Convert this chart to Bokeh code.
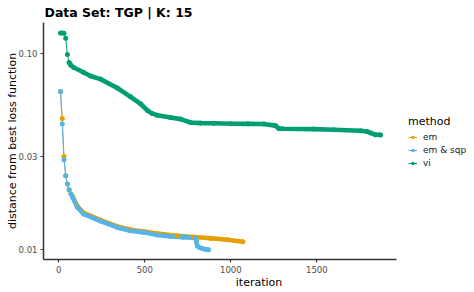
from bokeh.plotting import figure
from bokeh.models import Range1d, FixedTicker, Legend, LegendItem, Title
from bokeh.embed import file_html
from bokeh.resources import INLINE

# ---- data ----
METHODS = ["em", "em & sqp", "vi"]
COLORS = ["#E69F00", "#56B4E9", "#009E73"]

ITER_EM = [10, 20, 30, 40, 50, 60, 70, 80, 107, 145, 242, 340, 417, 494, 572,
           688, 785, 882, 980, 1070]
EM = [0.0638, 0.0466, 0.0298, 0.0238, 0.0216, 0.0202, 0.0193, 0.0187, 0.0167,
      0.0154, 0.01415, 0.01315, 0.01265, 0.0124, 0.0121, 0.0118, 0.01163,
      0.01145, 0.01125, 0.0110]

ITER_EMSQP = [10, 20, 30, 40, 50, 60, 70, 80, 107, 145, 242, 340, 417, 494,
              572, 650, 720, 795, 800, 805, 815, 835, 855, 870]
EMSQP = [0.0638, 0.0436, 0.0287, 0.0238, 0.0216, 0.0202, 0.0192, 0.0185,
         0.0165, 0.0152, 0.0140, 0.0130, 0.0125, 0.01227, 0.0119, 0.0117,
         0.0116, 0.0115, 0.0110, 0.0105, 0.0103, 0.01015, 0.01005, 0.0100]

ITER_VI = [10, 20, 30, 40, 50, 60, 70, 87, 145, 184, 242, 340, 417, 476, 514,
           543, 572, 649, 708, 766, 824, 901, 1000, 1100, 1192, 1260, 1279,
           1300, 1483, 1600, 1754, 1790, 1812, 1840, 1870]
VI = [0.1265, 0.1265, 0.1262, 0.1191, 0.0984, 0.0896, 0.0868, 0.0845, 0.0797,
      0.0765, 0.0738, 0.0665, 0.0600, 0.0552, 0.0512, 0.0493, 0.0484, 0.0471,
      0.0462, 0.0444, 0.0441, 0.0440, 0.0438, 0.0437, 0.0436, 0.0428, 0.0414,
      0.0413, 0.0411, 0.0408, 0.0403, 0.0400, 0.0393, 0.0385, 0.0384]

X_TICKS = [0, 500, 1000, 1500]
Y_TICKS = [0.01, 0.03, 0.1]
Y_TICK_LABELS = ["0.01", "0.03", "0.10"]

SERIES = [(ITER_EM, EM), (ITER_EMSQP, EMSQP), (ITER_VI, VI)]
DENSE_FROM = [80, 80, 60]   # iteration from which points overlap into a band

FONT = "DejaVu Sans"

# ---- layout geometry (pixels) ----
W, H = 474, 292
LEFT, PANEL_RIGHT, TOP, BOTTOM = 43, 396, 21, 33
X0, X1 = -89, 1963                        # visible data span of the panel
scale = (PANEL_RIGHT - LEFT) / (X1 - X0)  # px per unit
X_END = X0 + (W - LEFT) / scale           # frame extends under the legend

p = figure(width=W, height=H, y_axis_type="log",
           x_range=Range1d(X0, X_END), y_range=Range1d(0.00893, 0.1432),
           output_backend="svg", toolbar_location=None,
           min_border_left=LEFT, min_border_right=0,
           min_border_top=TOP, min_border_bottom=BOTTOM)

p.title.text = "Data Set: TGP | K: 15"
p.title.text_font = FONT
p.title.text_font_size = "12.5px"
p.title.text_font_style = "bold"
p.title.text_color = "#000000"
p.title.offset = 1
p.title.standoff = 5

p.outline_line_color = None
p.xgrid.visible = False
p.ygrid.visible = False
p.background_fill_color = "white"

for ax in (p.xaxis[0], p.yaxis[0]):
    ax.axis_line_color = "#333333"
    ax.axis_line_width = 1.5
    ax.major_tick_line_color = "#333333"
    ax.major_tick_line_width = 1.2
    ax.major_tick_out = 3
    ax.major_tick_in = 0
    ax.minor_tick_line_color = None
    ax.major_label_text_font = FONT
    ax.major_label_text_font_size = "8.5px"
    ax.major_label_text_color = "#4D4D4D"
    ax.axis_label_text_font = FONT
    ax.axis_label_text_font_size = "11px"
    ax.axis_label_text_font_style = "normal"
    ax.axis_label_text_color = "#000000"

p.xaxis.ticker = FixedTicker(ticks=X_TICKS, minor_ticks=[])
p.xaxis.bounds = (X0, X1)
p.yaxis.ticker = FixedTicker(ticks=Y_TICKS, minor_ticks=[])
p.yaxis.major_label_overrides = {t: s for t, s in zip(Y_TICKS, Y_TICK_LABELS)}
p.yaxis.axis_label = "distance from best loss function"
p.xaxis.major_label_standoff = 3
p.yaxis.major_label_standoff = 3
p.yaxis.axis_label_standoff = -3

# x-axis title centred under the panel (not under the wider frame)
frame_w = W - LEFT
xt = Title(text="iteration", align="center", text_font=FONT,
           text_font_size="11px", text_font_style="normal",
           text_color="#000000", standoff=-4,
           offset=(PANEL_RIGHT - LEFT) / 2 - frame_w / 2)
p.add_layout(xt, "below")

thin = []
for (xs, ys), c in zip(SERIES, COLORS):
    thin.append(p.line(xs, ys, line_color=c, line_width=1))
for (xs, ys), c, d in zip(SERIES, COLORS, DENSE_FROM):
    dx = [x for x in xs if x >= d]
    dy = [y for x, y in zip(xs, ys) if x >= d]
    p.line(dx, dy, line_color=c, line_width=4.6, line_cap="round",
           line_join="round")
pts = []
for (xs, ys), c in zip(SERIES, COLORS):
    pts.append(p.scatter(xs, ys, marker="circle", size=5, fill_color=c,
                         line_color=None))

items = [LegendItem(label=m, renderers=[l, s])
         for m, l, s in zip(METHODS, thin, pts)]
legend = Legend(items=items, location=(PANEL_RIGHT - LEFT + 12, 90),
                title="method",
                title_text_font=FONT, title_text_font_size="11px",
                title_text_font_style="normal",
                title_text_color="#000000", title_standoff=3,
                label_text_font=FONT, label_text_font_size="9px",
                label_text_color="#1a1a1a", glyph_width=9, glyph_height=12,
                label_height=12, label_standoff=6, spacing=1, padding=0,
                margin=0, border_line_color=None, background_fill_alpha=0)
p.add_layout(legend, "center")

open("out.html", "w").write(file_html(p, INLINE))
